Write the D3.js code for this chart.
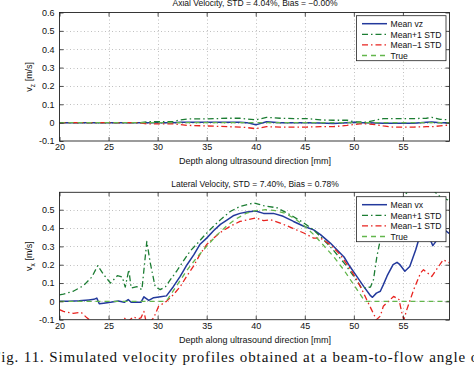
<!DOCTYPE html>
<html><head><meta charset="utf-8">
<script src="https://cdn.jsdelivr.net/npm/d3@7"></script>
<style>
body{margin:0;background:#fff;}
svg{display:block;font-family:"Liberation Sans",Arial,sans-serif;}
</style></head>
<body><svg id="c" width="474" height="367"></svg>
<script>
// ---------- data ----------
const xTicks = [20, 25, 30, 35, 40, 45, 50, 55];
const yTicksTop = [-0.1, 0, 0.1, 0.2, 0.3, 0.4, 0.5, 0.6];
const yTicksBottom = [-0.1, 0, 0.1, 0.2, 0.3, 0.4, 0.5];
const legendAxial = ["Mean vz", "Mean+1 STD", "Mean\u22121 STD", "True"];
const legendLateral = ["Mean vx", "Mean+1 STD", "Mean\u22121 STD", "True"];

// axial (top)
const axialDepth = [20, 28.2, 28.9, 30, 31.6, 32.3, 33.0, 35.0, 37.1, 38.4, 39.1, 40.0, 41.1, 42.5, 43.9, 45.2, 46.6, 47.9, 49.3, 50.0, 50.6, 51.3, 52.3, 53.0, 54.0, 56.1, 57.4, 57.95, 58.8, 59.75];
const axialMean = [0,0,0,0,0,0.002,0.002,0.002,0.002,0.002,0,-0.012,0.005,0,0,0,-0.002,-0.004,0,0.002,0,0,-0.002,-0.003,-0.003,-0.003,0.002,0.004,0,0];
const axialPlus = [0,0,0.005,0.005,0.006,0.015,0.02,0.02,0.024,0.024,0.02,0.015,0.029,0.024,0.022,0.022,0.015,0.013,0.013,0.005,0.004,0.002,0.015,0.022,0.022,0.022,0.024,0.029,0.018,0.015];
const axialMinus = [0,0,-0.007,-0.007,-0.007,-0.01,-0.015,-0.018,-0.022,-0.024,-0.027,-0.033,-0.022,-0.024,-0.024,-0.024,-0.022,-0.022,-0.015,-0.01,-0.007,-0.006,-0.012,-0.018,-0.024,-0.024,-0.022,-0.022,-0.018,-0.013];
const axialTrueDepth = [20, 59.75];
const axialTrue = [0, 0];

// lateral (bottom)
const latMeanDepth = [20,21,22,23,23.5,23.8,24.05,24.5,25.2,26,26.6,27.0,27.3,28.3,28.6,29.1,29.6,30.3,30.9,31.6,32.3,33.0,33.7,34.3,35.0,35.7,36.4,37.1,37.7,38.4,39.1,40.0,40.8,41.8,42.8,43.85,44.9,45.9,46.6,47.6,48.3,49.0,49.6,50.3,51.0,51.7,51.9,52.3,52.7,53.0,53.4,54.0,54.4,54.7,55.2,55.7,56.3,56.8,57.2,57.6,57.8,58.05,58.5,59.1,59.75];
const latMean = [0,0,0.003,0.008,0.011,0.018,-0.013,-0.01,-0.005,0.002,-0.005,0.01,-0.005,-0.005,0.025,0.005,0.02,0.025,0.03,0.08,0.136,0.2,0.255,0.31,0.345,0.385,0.42,0.445,0.467,0.48,0.487,0.493,0.48,0.48,0.464,0.436,0.41,0.39,0.364,0.318,0.28,0.242,0.19,0.136,0.082,0.031,0.022,0.045,0.055,0.09,0.14,0.2,0.213,0.2,0.164,0.19,0.28,0.37,0.40,0.36,0.335,0.304,0.337,0.395,0.37];
const latPlusDepth = [20,20.4,21.4,22.45,23.3,23.9,24.5,25.2,25.9,26.4,26.7,27.07,27.3,27.9,28.4,28.9,29.25,29.75,30.27,30.8,31.3,31.97,32.6,33.3,34.0,34.7,35.7,36.5,37.4,38.4,39.8,40.8,42.2,43.5,44.9,45.9,46.9,47.9,49.0,50.0,50.8,51.7,52.0,52.35,52.7,53.4,54.2,55.2,56.0,56.8,57.8,58.8,59.75];
const latPlus = [0.035,0.04,0.055,0.086,0.133,0.195,0.146,0.1,0.14,0.133,0.078,0.173,0.073,0.08,0.064,0.327,0.21,0.08,0.064,0.08,0.118,0.167,0.218,0.273,0.313,0.355,0.41,0.45,0.49,0.518,0.537,0.522,0.51,0.473,0.428,0.39,0.337,0.28,0.21,0.136,0.073,0.078,0.118,0.245,0.337,0.43,0.52,0.58,0.63,0.64,0.62,0.57,0.55];
const latMinusDepth = [20,20.4,21.4,22.2,22.8,23.5,26.3,26.6,27.0,27.5,28.0,28.3,28.6,28.9,29.6,30.1,30.9,31.6,32.3,33.0,33.7,34.3,35.0,35.7,36.4,37.4,38.4,40.0,40.8,41.5,42.5,43.5,44.9,45.9,46.6,47.6,48.6,49.6,50.3,51.0,51.3,51.8,52.3,52.7,53.0,53.7,54.05,54.6,54.9,55.1,55.4,56.1,56.8,57.1,57.95,59.1,59.75];
const latMinus = [-0.045,-0.055,-0.065,-0.06,-0.09,-0.12,-0.14,-0.09,-0.11,-0.085,-0.095,-0.09,-0.055,-0.13,-0.09,-0.027,0,0.036,0.08,0.14,0.195,0.255,0.31,0.345,0.376,0.41,0.436,0.455,0.44,0.445,0.427,0.405,0.373,0.345,0.345,0.31,0.255,0.18,0.118,0.045,0.01,-0.045,-0.1,-0.08,-0.027,0.009,0.027,0.01,-0.063,-0.1,-0.045,0.064,0.155,0.173,0.136,0.227,0.21];
const latTrueDepth = [20,30.8,31,32,33,34,35,36,37,38,39,40,41,42,43,44,45,46,47,48,49,50,51,51.2,59.75];
const latTrue = [0,0,0.01,0.09,0.17,0.24,0.30,0.36,0.41,0.45,0.48,0.495,0.5,0.495,0.48,0.45,0.41,0.36,0.30,0.24,0.17,0.09,0.01,0,0];

// ---------- drawing ----------
const svg = d3.select("#c");
const colors = {mean:"#23399c", plus:"#1c7d33", minus:"#e8231f", tru:"#63b64c"};
const styles = [
  {c:colors.mean, w:1.5, dash:null},
  {c:colors.plus, w:1.3, dash:"6,3,1.5,3"},
  {c:colors.minus, w:1.3, dash:"6,3,1.5,3"},
  {c:colors.tru, w:1.3, dash:"5,4"}
];
const FS = "9px";

function panel(cfg){
  const x = d3.scaleLinear().domain([20, 59.75]).range([59.5, 449.5]);
  const y = d3.scaleLinear().domain(cfg.yDomain).range(cfg.yRange);
  const g = svg.append("g");
  const [x0,x1] = x.range(), y0 = cfg.yRange[1], y1 = cfg.yRange[0];
  // grid
  g.append("g").selectAll("line").data(xTicks.slice(1)).join("line")
    .attr("x1", d=>Math.round(x(d))+0.5).attr("x2", d=>Math.round(x(d))+0.5)
    .attr("y1", y0).attr("y2", y1)
    .attr("stroke","#b0b0b0").attr("stroke-width",0.8).attr("stroke-dasharray","1,2.5");
  g.append("g").selectAll("line").data(cfg.yTicks.filter(d=>y(d)>y0+1 && y(d)<y1-1)).join("line")
    .attr("x1", x0).attr("x2", x1)
    .attr("y1", d=>Math.round(y(d))+0.5).attr("y2", d=>Math.round(y(d))+0.5)
    .attr("stroke","#b0b0b0").attr("stroke-width",0.8).attr("stroke-dasharray","1,2.5");
  // clip
  const cid = "clip"+cfg.id;
  svg.append("defs").append("clipPath").attr("id",cid).append("rect")
    .attr("x",x0).attr("y",y0).attr("width",x1-x0).attr("height",y1-y0);
  const lines = g.append("g").attr("clip-path",`url(#${cid})`);
  const line = d3.line().x(d=>x(d[0])).y(d=>y(d[1]));
  cfg.series.forEach((s,i)=>{
    const pts = s.x.map((d,k)=>[d, s.y[k]]);
    lines.append("path").attr("d", line(pts)).attr("fill","none")
      .attr("stroke", styles[i].c).attr("stroke-width", styles[i].w)
      .attr("stroke-dasharray", styles[i].dash).attr("stroke-linejoin","round");
  });
  // axes (MATLAB style ticks inside, on all four sides)
  const axB = g.append("g").attr("transform",`translate(0,${y1})`)
    .call(d3.axisBottom(x).tickValues(xTicks).tickSizeInner(-4).tickSizeOuter(0).tickPadding(3).tickFormat(d3.format("d")));
  const axT = g.append("g").attr("transform",`translate(0,${y0})`)
    .call(d3.axisTop(x).tickValues(xTicks).tickSizeInner(-4).tickSizeOuter(0).tickFormat(""));
  const axL = g.append("g").attr("transform",`translate(${x0},0)`)
    .call(d3.axisLeft(y).tickValues(cfg.yTicks).tickSizeInner(-4).tickSizeOuter(0).tickPadding(5)
      .tickFormat(d=> d===0 ? "0" : (d<0 ? "-"+Math.abs(d).toFixed(1) : d.toFixed(1))));
  const axR = g.append("g").attr("transform",`translate(${x1},0)`)
    .call(d3.axisRight(y).tickValues(cfg.yTicks).tickSizeInner(-4).tickSizeOuter(0).tickFormat(""));
  [axB,axT,axL,axR].forEach(a=>{
    a.select(".domain").remove();
    a.selectAll("line").attr("stroke","#222").attr("stroke-width",0.8);
    a.selectAll("text").attr("font-size",FS).attr("fill","#111").attr("font-family","Liberation Sans, Arial, sans-serif");
  });
  g.append("rect").attr("x",x0).attr("y",y0).attr("width",x1-x0).attr("height",y1-y0)
    .attr("fill","none").attr("stroke","#222").attr("stroke-width",0.9);
  // titles
  g.append("text").attr("x",255).attr("y",cfg.titleY).attr("text-anchor","middle")
    .attr("font-size","8.5px").attr("fill","#111").text(cfg.title);
  g.append("text").attr("x",255).attr("y",y1+23).attr("text-anchor","middle")
    .attr("font-size",FS).attr("fill","#111").text("Depth  along ultrasound direction [mm]");
  const yl = g.append("text").attr("transform",`translate(32,${(y0+y1)/2}) rotate(-90)`)
    .attr("text-anchor","middle").attr("font-size",FS).attr("fill","#111");
  yl.append("tspan").text("v");
  yl.append("tspan").attr("dy",3).attr("font-size","6.5px").text(cfg.sub);
  yl.append("tspan").attr("dy",-3).text(" [m/s]");
  // legend
  const lg = g.append("g");
  lg.append("rect").attr("x",356.5).attr("y",cfg.legY).attr("width",89.5).attr("height",45)
    .attr("fill","#fff").attr("stroke","#222").attr("stroke-width",0.8);
  cfg.legend.forEach((t,i)=>{
    const yy = cfg.legY + 8 + i*10.6;
    lg.append("line").attr("x1",362).attr("x2",387).attr("y1",yy).attr("y2",yy)
      .attr("stroke",styles[i].c).attr("stroke-width",styles[i].w).attr("stroke-dasharray",styles[i].dash);
    lg.append("text").attr("x",390.5).attr("y",yy+3.2).attr("font-size","8.6px").attr("fill","#111").text(t);
  });
}

panel({id:"a", yDomain:[-0.1,0.6], yRange:[141,12.5], yTicks:yTicksTop, titleY:6, sub:"z",
  title:"Axial Velocity, STD = 4.04%, Bias = \u22120.00%", legend:legendAxial, legY:15.7,
  series:[{x:axialDepth,y:axialMean},{x:axialDepth,y:axialPlus},{x:axialDepth,y:axialMinus},{x:axialTrueDepth,y:axialTrue}]});
panel({id:"b", yDomain:[-0.1,0.595], yRange:[319.7,192.3], yTicks:yTicksBottom, titleY:186.5, sub:"x",
  title:"Lateral Velocity, STD = 7.40%, Bias = 0.78%", legend:legendLateral, legY:196.7,
  series:[{x:latMeanDepth,y:latMean},{x:latPlusDepth,y:latPlus},{x:latMinusDepth,y:latMinus},{x:latTrueDepth,y:latTrue}]});

// caption
svg.append("text").attr("x",-8).attr("y",361.5).attr("font-family","Liberation Serif, DejaVu Serif, serif")
  .attr("font-size","15px").attr("fill","#111").attr("textLength",492).attr("lengthAdjust","spacing")
  .text("Fig. 11. Simulated velocity profiles obtained at a beam-to-flow angle of");
</script></body></html>
